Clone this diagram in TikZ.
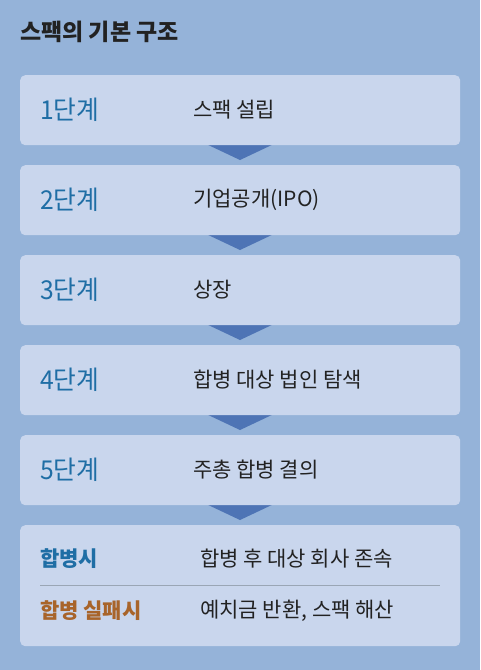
\documentclass[tikz,border=0pt]{standalone}
\usepackage{fontspec}
\setmainfont{Noto Sans CJK KR}
\definecolor{bgblue}{HTML}{95B3D9}
\definecolor{boxfill}{HTML}{C9D6ED}
\definecolor{arrowblue}{HTML}{4E74B5}
\definecolor{stageblue}{HTML}{1F6EA5}
\definecolor{failbrown}{HTML}{A8642A}
\definecolor{textdark}{HTML}{222222}
\definecolor{rulegrey}{HTML}{9AA6B5}
\begin{document}
\begin{tikzpicture}[x=1pt,y=-1pt,
  stagebox/.style={fill=boxfill,draw=none,rounded corners=5pt},
  pointer/.style={fill=arrowblue,draw=none},
  stagelabel/.style={anchor=west,text=stageblue,font=\fontsize{26}{28}\selectfont,xscale=0.95,inner sep=0pt},
  desc/.style={anchor=west,text=textdark,font=\fontsize{21}{24}\selectfont,xscale=1.0,inner sep=0pt},
  outcome/.style={anchor=west,font=\bfseries\fontsize{21}{24}\selectfont,xscale=1.0,inner sep=0pt}
]
\useasboundingbox (0,0) rectangle (480,670);
\fill[bgblue] (0,0) rectangle (480,670);
\node[anchor=west,text=textdark,font=\bfseries\fontsize{23}{26}\selectfont,inner sep=0pt] (title) at (20,32) {스팩의 기본 구조};
% arrows (drawn first, under boxes)
\foreach \i/\y in {1/145,2/235,3/325,4/415,5/505}{
  \fill[pointer] (204,\y-2) -- (276,\y-2) -- (240,\y+15) -- cycle;
}
% stage boxes
\foreach \i/\y/\t in {1/75/스팩 설립,2/165/기업공개(IPO),3/255/상장,4/345/합병 대상 법인 탐색,5/435/주총 합병 결의}{
  \node[stagebox,minimum width=440pt,minimum height=70pt,anchor=north west,inner sep=0pt] (box\i) at (20,\y) {};
  \node[stagelabel] (lab\i) at (40,\y+35) {{\i}단계};
  \node[desc] (desc\i) at (193,\y+35) {{\t}};
}
% final box
\node[stagebox,minimum width=440pt,minimum height=121pt,anchor=north west,inner sep=0pt] (final) at (20,525) {};
\draw[rulegrey,line width=0.8pt] (40,585) coordinate (ruleL) -- (440,585) coordinate (ruleR);
\node[outcome,text=stageblue] (okL) at (40,559) {합병시};
\node[desc] (okR) at (200,559) {합병 후 대상 회사 존속};
\node[outcome,text=failbrown] (failL) at (40,611) {합병 실패시};
\node[desc] (failR) at (200,611) {예치금 반환, 스팩 해산};
\end{tikzpicture}
\end{document}
